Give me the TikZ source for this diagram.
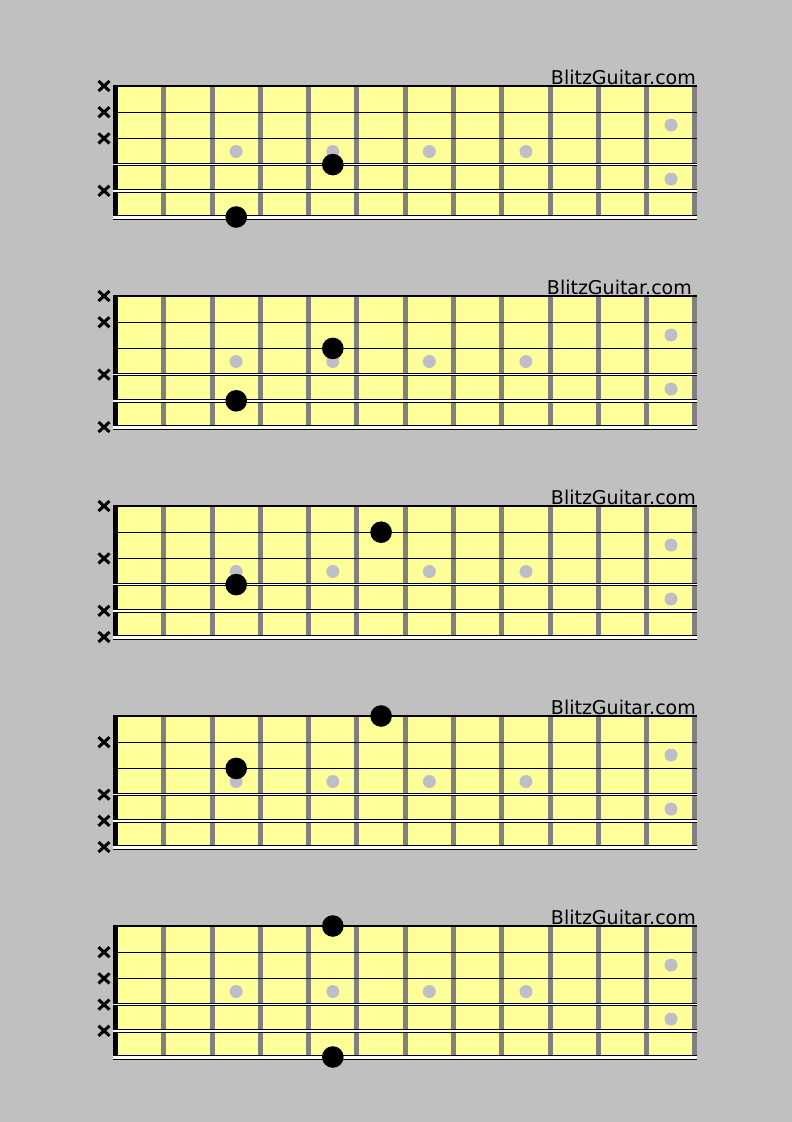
\documentclass[tikz,border=0pt]{standalone}
\usepackage{fontspec}
\setmainfont{DejaVu Sans}
\usetikzlibrary{positioning}
\definecolor{bgGray}{RGB}{192,192,192}
\definecolor{boardYellow}{RGB}{255,255,153}
\definecolor{fretGray}{RGB}{128,128,128}
\definecolor{inlayGray}{RGB}{190,190,200}
\tikzset{board/.style={fill=boardYellow,draw=none},
         fret/.style={draw=fretGray,line width=5pt},
         nut/.style={draw=black,line width=5pt},
         plain string/.style={draw=black,line width=1.1pt},
         wound string/.style={draw=black,line width=3.4pt,postaction={draw=white,line width=1.4pt}},
         low string/.style={draw=black,line width=4.6pt,postaction={draw=white,line width=2.4pt}},
         inlay/.style={circle,fill=inlayGray,draw=none,minimum size=13pt,inner sep=0pt},
         finger/.style={circle,fill=black,draw=none,minimum size=21.6pt,inner sep=0pt},
         site label/.style={font=\fontsize{19}{21}\selectfont,inner sep=0pt,anchor=base east},
         mute/.pic={\draw[line width=3pt] (-5.5pt,-5pt) -- (5.5pt,5pt) (-5.5pt,5pt) -- (5.5pt,-5pt);}
}

\begin{document}
\begin{tikzpicture}[x=1pt,y=-1pt]
\fill[bgGray] (0,0) rectangle (792,1122);
% \draw[help lines,step=50] (0,0) grid (792,1122);
\foreach \i/\T/\tx/\muted/\fingers in {
    1/86/696/{1,2,3,5}/{5/4,3/6},
    2/296/692/{1,2,4,6}/{5/3,3/5},
    3/506/696/{1,3,5,6}/{6/2,3/4},
    4/716/696/{2,4,5,6}/{6/1,3/3},
    5/926/696/{2,3,4,5}/{5/1,5/6}}{
  \begin{scope}[shift={(0,\T)}]
    \fill[board] (118,0) rectangle (693,131);
    \foreach \f in {1,...,12}
      \draw[fret] ({115.5+\f*48.29},0) -- ({115.5+\f*48.29},131);
    \draw[nut] (115.5,0) -- (115.5,131);
    % position markers
    \foreach \f in {3,5,7,9}
      \node[inlay] (dot\i-\f) at ({115.5+(\f-0.5)*48.29},65.5) {};
    \node[inlay] (dot\i-12a) at (671,39) {};
    \node[inlay] (dot\i-12b) at (671,93) {};
    % strings
    \foreach \s in {1,2,3}
      \draw[plain string] (113,{(\s-1)*26.2}) -- (697,{(\s-1)*26.2});
    \draw[wound string] (113,78.6) -- (697,78.6);
    \draw[wound string] (113,104.8) -- (697,104.8);
    \draw[low string] (113,131.5) -- (697,131.5);
    \foreach \s in \muted
      \pic at (104,{(\s-1)*26.2}) {mute};
    \foreach \f/\s in \fingers
      \node[finger] (f\i-\s) at ({115.5+(\f-0.5)*48.29},{(\s-1)*26.2}) {};
    \node[site label] (site\i) at (\tx,-2) {BlitzGuitar.com};
  \end{scope}
}
\end{tikzpicture}
\end{document}
